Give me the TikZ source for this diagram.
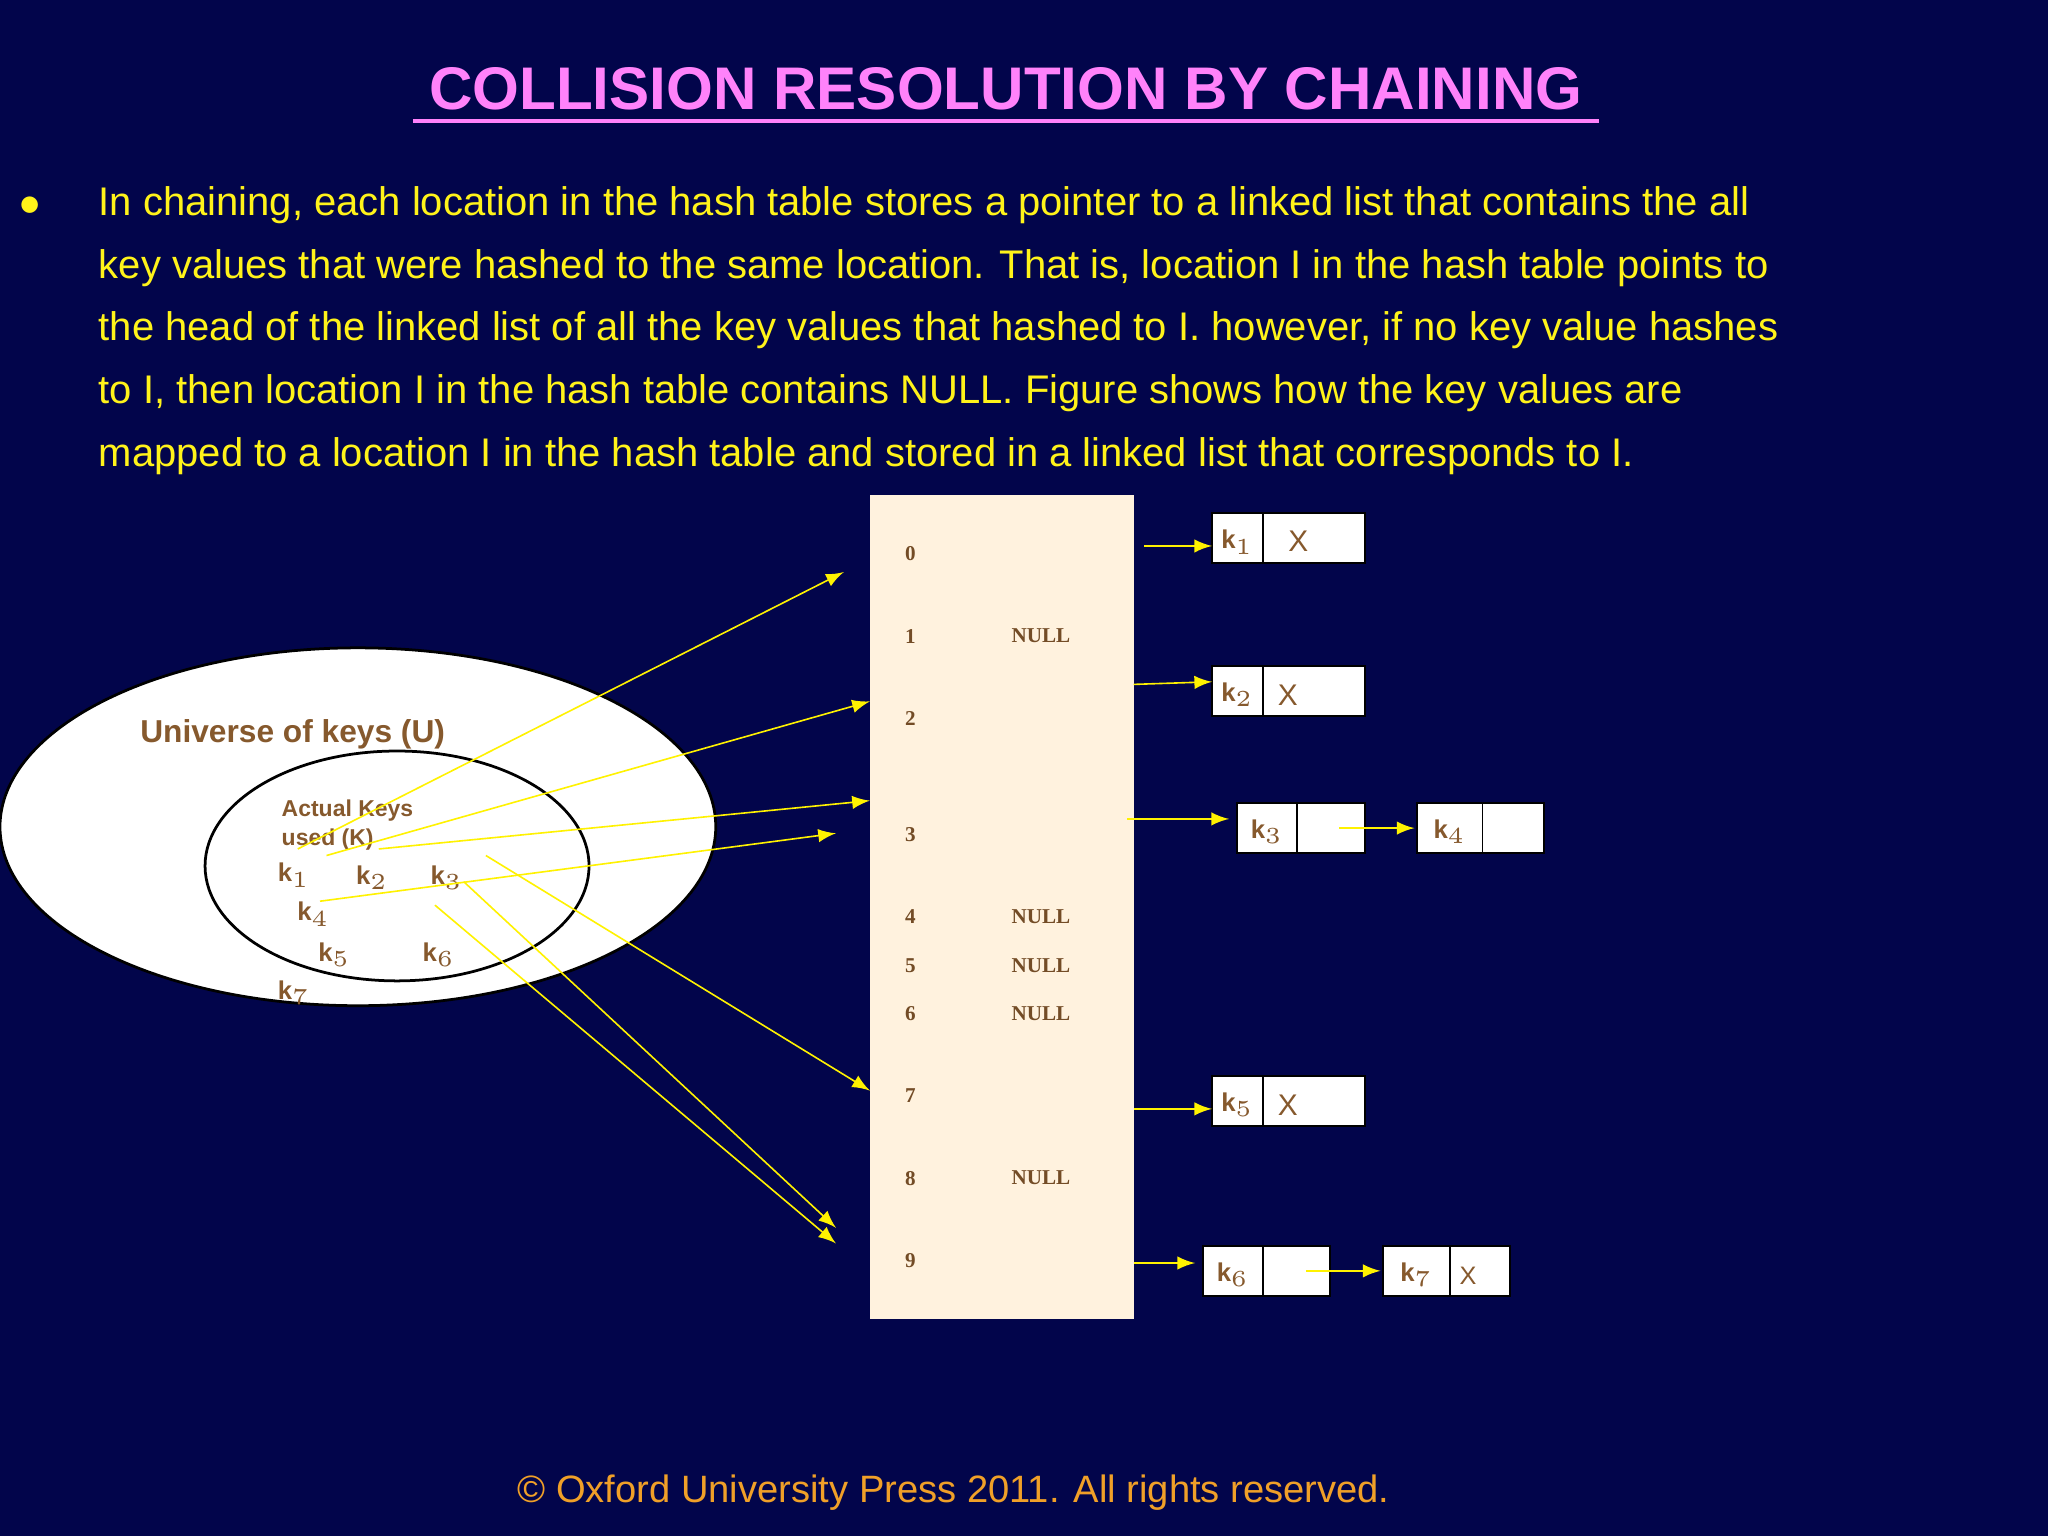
\documentclass[tikz,border=0pt]{standalone}
\usepackage{fontspec}
\setmainfont{Liberation Sans}
\newfontfamily\tms{Liberation Serif}
\definecolor{pinkt}{RGB}{255,130,250}
\definecolor{bgnavy}{RGB}{2,5,75}
\definecolor{tablefill}{RGB}{255,242,222}
\definecolor{footc}{RGB}{240,160,40}
\begin{document}
\begin{tikzpicture}[x=0.01cm,y=-0.01cm,
  body/.style={anchor=base west,text=yellow!90!white,font=\fontsize{8.7}{10}\selectfont,inner sep=0},
  idx/.style={text=brown!60!black,font=\tms\bfseries\fontsize{4.6}{5}\selectfont,inner sep=0},
  key/.style={text=brown!70!black,font=\bfseries\fontsize{5.6}{6}\selectfont,inner sep=0},
  cell/.style={draw=black,fill=white,line width=0.4pt},
  ya/.style={draw=yellow,line width=0.35pt,-latex}]
\fill[bgnavy] (0,0) rectangle (1568,1176);
\useasboundingbox (0,0) rectangle (1568,1176);
\node[text=pinkt,font=\bfseries\fontsize{13.1}{14}\selectfont] (title) at (770,68) {COLLISION RESOLUTION BY CHAINING};
\draw[pinkt,line width=0.8pt] ([yshift=0.04cm]title.south west) -- ([yshift=0.04cm]title.south east);
\node[body] (b) at (14,165) {$\bullet$};
\node[body] (l1) at (75,165) {In chaining, each location in the hash table stores a pointer to a linked list that contains the all};
\node[body] (l2) at (75,213) {key values that were hashed to the same location. That is, location I in the hash table points to};
\node[body] (l3) at (75,261) {the head of the linked list of all the key values that hashed to I. however, if no key value hashes};
\node[body] (l4) at (75,309) {to I, then location I in the hash table contains NULL. Figure shows how the key values are};
\node[body] (l5) at (75,357) {mapped to a location I in the hash table and stored in a linked list that corresponds to I.};
% table
\fill[tablefill] (666,379) rectangle (868,1010);
\foreach \i/\y in {0/424,1/487,2/550,3/639,4/702,5/739,6/776,7/839,8/902,9/965}{\node[idx] (i\i) at (697,\y) {\i};}
\foreach \i/\y in {1/487,4/702,5/739,6/776,8/902}{\node[idx] (n\i) at (797,\y) {NULL};}
% ellipses
\draw[fill=white,line width=0.6pt] (274,633) ellipse [x radius=274,y radius=137];
\draw[line width=0.6pt] (304,663) ellipse [x radius=147,y radius=88];
\node[text=brown!70!black,font=\bfseries\fontsize{6.9}{7}\selectfont,anchor=west] (U) at (95,562) {Universe of keys (U)};
\node[key,anchor=north west,align=left,font=\bfseries\fontsize{5}{6.3}\selectfont] (K) at (215,612) {Actual Keys\\used (K)};
\node[key] (k1) at (225,670) {k$_1$};
\node[key] (k2) at (285,672) {k$_2$};
\node[key] (k3) at (342,672) {k$_3$};
\node[key] (k4) at (240,700) {k$_4$};
\node[key] (k5) at (256,731) {k$_5$};
\node[key] (k6) at (336,731) {k$_6$};
\node[key] (k7) at (225,760) {k$_7$};
% key arrows
\coordinate (s1) at (228,650); \coordinate (t1) at (646,438);
\coordinate (s2) at (250,655); \coordinate (t2) at (666,537);
\coordinate (s3) at (290,650); \coordinate (t3) at (666,613);
\coordinate (s4) at (245,690); \coordinate (t4) at (640,638);
\coordinate (s5) at (372,655); \coordinate (t5) at (666,835);
\coordinate (s6) at (355,675); \coordinate (t6) at (640,940);
\coordinate (s7) at (333,693); \coordinate (t7) at (640,952);
\foreach \j in {1,...,7}{\draw[ya] (s\j) -- (t\j);}
% list cells
\newcommand\lcell[6]{%
  \draw[cell] (#2,#5) rectangle (#4,#5+38);
  \draw (#3,#5) -- (#3,#5+38);
  \node[key] (#1) at ({(#2+#3)/2},#5+22) {#6};}
\lcell{c1}{928}{967}{1045}{393}{k$_1$}
\node[key,font=\fontsize{6.5}{7}\selectfont] (x1) at (994,414) {X};
\lcell{c2}{928}{967}{1045}{510}{k$_2$}
\node[key,font=\fontsize{6.5}{7}\selectfont] (x2) at (986,532) {X};
\lcell{c3}{947}{993}{1045}{615}{k$_3$}
\lcell{c4}{1085}{1135}{1182}{615}{k$_4$}
\lcell{c5}{928}{967}{1045}{824}{k$_5$}
\node[key,font=\fontsize{6.5}{7}\selectfont] (x5) at (986,846) {X};
\lcell{c6}{921}{967}{1018}{954}{k$_6$}
\lcell{c7}{1059}{1110}{1156}{954}{k$_7$}
\node[key,font=\fontsize{5.5}{6}\selectfont] (x7) at (1124,977) {X};
% list arrows
\coordinate (a1) at (876,418); \coordinate (b1) at (928,418);
\coordinate (a2) at (868,524); \coordinate (b2) at (928,522);
\coordinate (a3) at (863,627); \coordinate (b3) at (941,627);
\coordinate (a4) at (1025,634); \coordinate (b4) at (1083,634);
\coordinate (a5) at (868,849); \coordinate (b5) at (928,849);
\coordinate (a6) at (868,967); \coordinate (b6) at (915,967);
\coordinate (a7) at (1000,973); \coordinate (b7) at (1057,973);
\foreach \j in {1,...,7}{\draw[ya] (a\j) -- (b\j);}
\node[text=footc,font=\fontsize{8.3}{9}\selectfont] (foot) at (730,1143) {\textcopyright{} Oxford University Press 2011. All rights reserved.};
\end{tikzpicture}
\end{document}
